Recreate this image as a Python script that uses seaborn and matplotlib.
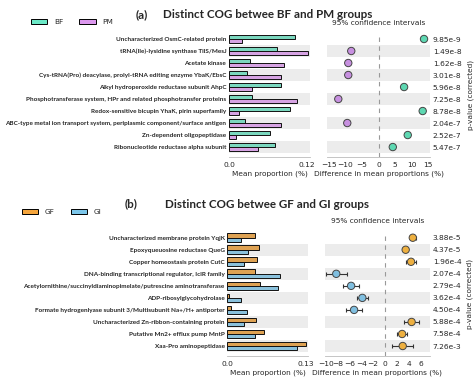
"""
STAMP-style extended error bar chart, two panels
"""
import numpy as np
import pandas as pd
import matplotlib
matplotlib.use("Agg")
import matplotlib.pyplot as plt
import seaborn as sns
from matplotlib.patches import Patch

# panel (a): BF vs PM
cogs_a = [
    "Uncharacterized OsmC-related protein",
    "tRNA(Ile)-lysidine synthase TilS/MesJ",
    "Acetate kinase",
    "Cys-tRNA(Pro) deacylase, prolyl-tRNA editing enzyme YbaK/EbsC",
    "Alkyl hydroperoxide reductase subunit AhpC",
    "Phosphotransferase system, HPr and related phosphotransfer proteins",
    "Redox-sensitive bicupin YhaK, pirin superfamily",
    "ABC-type metal ion transport system, periplasmic component/surface antigen",
    "Zn-dependent oligopeptidase",
    "Ribonucleotide reductase alpha subunit",
]
bf_mean = [0.101, 0.074, 0.032, 0.028, 0.080, 0.035, 0.094, 0.025, 0.063, 0.070]
pm_mean = [0.020, 0.121, 0.085, 0.080, 0.036, 0.105, 0.016, 0.080, 0.011, 0.045]
diff_a = [13.7, -8.2, -9.1, -9.1, 7.7, -12.1, 13.3, -9.4, 8.8, 4.3]
ci_a = [0.0] * 10
pval_a = ["9.85e-9", "1.49e-8", "1.62e-8", "3.01e-8", "5.96e-8",
          "7.25e-8", "8.78e-8", "2.04e-7", "2.52e-7", "5.47e-7"]

# panel (b): GF vs GI
cogs_b = [
    "Uncharacterized membrane protein YqjK",
    "Epoxyqueuosine reductase QueG",
    "Copper homeostasis protein CutC",
    "DNA-binding transcriptional regulator, IclR family",
    "Acetylornithine/succinyldiaminopimelate/putrescine aminotransferase",
    "ADP-ribosylglycohydrolase",
    "Formate hydrogenlyase subunit 3/Multisubunit Na+/H+ antiporter",
    "Uncharacterized Zn-ribbon-containing protein",
    "Putative Mn2+ efflux pump MntP",
    "Xaa-Pro aminopeptidase",
]
gf_mean = [0.045, 0.052, 0.049, 0.046, 0.054, 0.003, 0.006, 0.047, 0.061, 0.130]
gi_mean = [0.022, 0.034, 0.027, 0.087, 0.084, 0.023, 0.032, 0.027, 0.046, 0.115]
diff_b = [4.7, 3.5, 4.4, -8.2, -5.7, -3.8, -5.2, 4.5, 2.9, 3.0]
ci_b = [0.5, 0.3, 0.9, 1.75, 1.3, 0.9, 1.3, 1.2, 0.9, 1.75]
pval_b = ["3.88e-5", "4.37e-5", "1.96e-4", "2.07e-4", "2.79e-4",
          "3.62e-4", "4.50e-4", "5.88e-4", "7.58e-4", "7.26e-3"]

W, H = 474, 381
BAND = "#ececec"
LABEL_FONT = ["Lato", "DejaVu Sans"]


def fx(px):
    return px / W


def fy(py):
    return 1 - py / H


def draw_panel(fig, top, bottom, bar_l, bar_r, diff_l, names, groups, m1, m2,
               diff, ci, pvals, bar_colors, pt_colors, bar_max, bar_tick,
               diff_lim, diff_ticks):
    n = len(names)
    df = pd.DataFrame({
        "name": names * 2,
        "group": [groups[0]] * n + [groups[1]] * n,
        "value": list(m1) + list(m2),
    })

    # bar part
    ax = fig.add_axes([fx(bar_l), fy(bottom), fx(bar_r - bar_l), (bottom - top) / H])
    for i in range(1, n, 2):
        ax.axhspan(i - 0.5, i + 0.5, color=BAND, lw=0, zorder=0)
    sns.barplot(data=df, x="value", y="name", hue="group", orient="h",
                palette=bar_colors, width=0.72, edgecolor="#111111", linewidth=0.7,
                legend=False, ax=ax, zorder=2)
    ax.set_xlim(0, bar_max)
    ax.set_ylim(n - 0.5 + 0.33, -0.5)
    ax.set_xticks([0, bar_tick])
    ax.set_xticklabels(["0.0", str(bar_tick)])
    ax.set_ylabel("")
    ax.set_xlabel("Mean proportion (%)", fontsize=5.3, labelpad=2)
    ax.tick_params(axis="y", length=0, pad=2)
    ax.tick_params(axis="x", length=2, width=0.5, labelsize=5.4, pad=1.5, color="#999999")
    for lab in ax.get_yticklabels():
        lab.set_fontfamily(LABEL_FONT)
        lab.set_fontweight("bold")
        lab.set_fontsize(4.6)
    for s in ["top", "right", "left"]:
        ax.spines[s].set_visible(False)
    ax.spines["bottom"].set_color("#bbbbbb")
    ax.spines["bottom"].set_linewidth(0.6)

    # difference part
    d_r = 430
    axd = fig.add_axes([fx(diff_l), fy(bottom), fx(d_r - diff_l), (bottom - top) / H])
    for i in range(1, n, 2):
        axd.axhspan(i - 0.5, i + 0.5, color=BAND, lw=0, zorder=0)
    axd.axvline(0, color="#999999", lw=0.8, ls=(0, (4, 4)), zorder=1)
    ypos = np.arange(n)
    winner = [groups[0] if d > 0 else groups[1] for d in diff]
    axd.errorbar(diff, ypos, xerr=ci, fmt="none", ecolor="#333333",
                 elinewidth=0.8, capsize=1.5, capthick=0.8, zorder=2)
    sns.scatterplot(x=diff, y=ypos, hue=winner, palette=dict(zip(groups, pt_colors)),
                    s=28, edgecolor="#444444", linewidth=0.7, legend=False,
                    ax=axd, zorder=3)
    axd.set_xlim(*diff_lim)
    axd.set_ylim(n - 0.5 + 0.33, -0.5)
    axd.set_xticks(diff_ticks)
    axd.set_xticklabels([str(t).replace("-", "\u2212") for t in diff_ticks])
    axd.set_xlabel("Difference in mean proportions (%)", fontsize=5.3, labelpad=2)
    axd.set_title("95% confidence intervals", fontsize=5.3, pad=6)
    axd.yaxis.tick_right()
    axd.yaxis.set_label_position("right")
    axd.set_yticks(ypos)
    axd.set_yticklabels(pvals)
    axd.set_ylabel("p-value (corrected)", fontsize=5.3, labelpad=4)
    axd.tick_params(axis="y", length=0, labelsize=5.4, pad=2)
    axd.tick_params(axis="x", length=2, width=0.5, labelsize=5.4, pad=1.5, color="#999999")
    for s in ["top", "right", "left"]:
        axd.spines[s].set_visible(False)
    axd.spines["bottom"].set_color("#bbbbbb")
    axd.spines["bottom"].set_linewidth(0.6)


def add_title(fig, letter, text, x_letter, x_text, y):
    fig.text(fx(x_letter), fy(y), letter, fontsize=8.4, fontweight="bold",
             family=LABEL_FONT, va="center", ha="left")
    fig.text(fx(x_text), fy(y), text, fontsize=8.4, fontweight="bold",
             family=LABEL_FONT, va="center", ha="left")


def add_legend(fig, labels, colors, x, y):
    handles = [Patch(facecolor=c, edgecolor="black", linewidth=0.7, label=l)
               for l, c in zip(labels, colors)]
    fig.legend(handles=handles, loc="center left", bbox_to_anchor=(fx(x), fy(y)),
               ncol=2, frameon=False, fontsize=5.3, handlelength=2.2,
               handleheight=0.6, handletextpad=0.9, columnspacing=2.2,
               borderpad=0.2)


sns.set_style("white")
plt.rcParams["font.family"] = ["DejaVu Sans"]

fig = plt.figure(figsize=(W / 100, H / 100), dpi=100)

add_title(fig, "(a)", "Distinct COG betwee BF and PM groups", 136, 163, 15)
add_legend(fig, ["BF", "PM"], ["#6be8c6", "#dc98ee"], 26, 22)
draw_panel(fig, 33, 157, 229, 310.5, 327, cogs_a, ["BF", "PM"], bf_mean, pm_mean,
           diff_a, ci_a, pval_a, ["#6be8c6", "#dc98ee"], ["#5ed8b2", "#c790e0"],
           0.125, 0.12, (-15.5, 15.5), [-15, -10, -5, 0, 5, 10, 15])

add_title(fig, "(b)", "Distinct COG betwee GF and GI groups", 125, 165, 204)
add_legend(fig, ["GF", "GI"], ["#f5a53c", "#7cc6ea"], 17, 212)
draw_panel(fig, 231.7, 356, 227.3, 308, 325, cogs_b, ["GF", "GI"], gf_mean, gi_mean,
           diff_b, ci_b, pval_b, ["#f5a53c", "#7cc6ea"], ["#eeb040", "#80bfe0"],
           0.133, 0.13, (-10.1, 7.6), [-10, -8, -6, -4, -2, 0, 2, 4, 6])

fig.savefig("out.png", dpi=100)
